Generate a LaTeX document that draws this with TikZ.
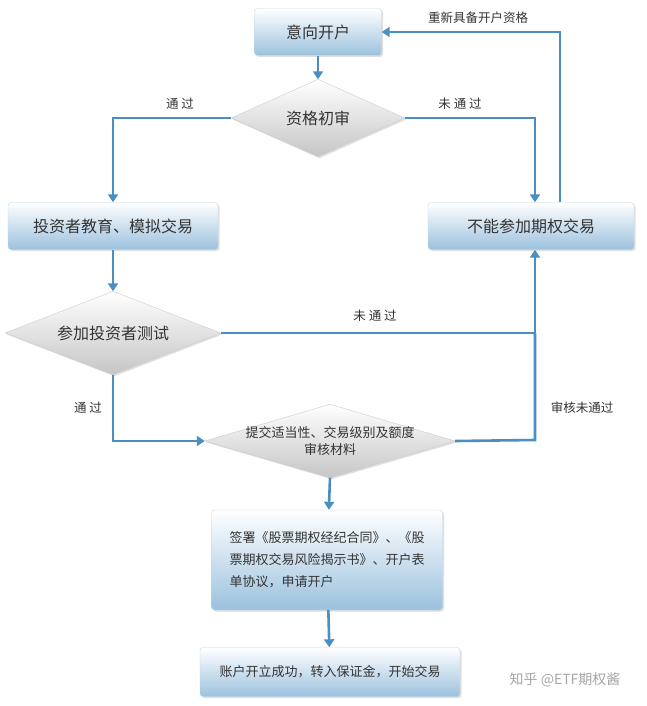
\documentclass[tikz,border=0pt]{standalone}
\usepackage{fontspec}
\setmainfont{Noto Sans CJK SC}
\usetikzlibrary{shadows,arrows.meta}
\definecolor{ln}{HTML}{4A8FC2}
\definecolor{tx}{HTML}{333333}
\tikzset{
 bx/.style={rectangle,rounded corners=3pt,draw=ln!35,top color=white,bottom color=ln!55,
   drop shadow={opacity=0.25,shadow xshift=1.5pt,shadow yshift=-1.5pt},text=tx,
   font=\fontsize{16}{20}\selectfont,align=center,inner sep=0pt},
 dm/.style={rectangle,text=tx,font=\fontsize{16}{20}\selectfont,align=center,inner sep=0pt},
 dmfill/.style={draw=gray!40,top color=white,bottom color=gray!45,
   drop shadow={opacity=0.25,shadow xshift=1.5pt,shadow yshift=-1.5pt}},
 ar/.style={draw=ln,line width=2.6pt,-{Triangle[length=8pt,width=10pt]}},
 pl/.style={draw=ln,line width=2.6pt},
 lb/.style={text=tx,font=\fontsize{12.5}{14}\selectfont}
}
\newcommand\dmshape[1]{\path[dmfill] (#1.west) -- (#1.north) -- (#1.east) -- (#1.south) -- cycle;}
\begin{document}
\begin{tikzpicture}[x=1pt,y=-1pt]
\useasboundingbox (0,0) rectangle (646,706);
\node[bx,minimum width=127,minimum height=47] (a) at (318,32) {意向开户};
\node[dm,minimum width=173,minimum height=77] (b) at (318,118) {};
\node[bx,minimum width=210,minimum height=47] (c) at (113,226) {投资者教育、模拟交易};
\node[bx,minimum width=206,minimum height=47] (d) at (531,226) {不能参加期权交易};
\node[dm,minimum width=215,minimum height=83] (e) at (113,333) {};
\node[dm,minimum width=250,minimum height=73] (f) at (330,441) {};
\dmshape{b}\dmshape{e}\dmshape{f}
\node[dm] (bt) at (b) {资格初审};
\node[dm] (et) at (e) {参加投资者测试};
\node[dm,font=\fontsize{13}{17}\selectfont] (ft) at (f) {提交适当性、交易级别及额度\\审核材料};
\node[bx,minimum width=231,minimum height=100,font=\fontsize{13}{22}\selectfont,align=left] (g) at (327,560) {签署《股票期权经纪合同》、《股\\票期权交易风险揭示书》、开户表\\单协议，申请开户};
\node[bx,minimum width=260,minimum height=49,font=\fontsize{13}{17}\selectfont] (h) at (330,672) {账户开立成功，转入保证金，开始交易};
\node[text=gray!70,font=\fontsize{14}{16}\selectfont] (w) at (565,680) {知乎 @ETF期权酱};
\coordinate (j1) at (535,333);
\coordinate (j2) at (535,440);
\draw[ar] (a) -- (b.north);
\draw[ar] (b.west) -| (c.north);
\draw[ar] (b.east) -| ([xshift=4pt]d.north);
\draw[ar] ([xshift=29pt]d.north) |- (a.east);
\draw[ar] (c) -- (e.north);
\draw[ar] (e.east) -- (j1) -- ([xshift=4pt]d.south);
\draw[pl] (f.east) -- (j2) -- (j1);
\draw[ar] (e.south) |- (f.west);
\draw[ar] (f.south) -- (g);
\draw[ar] (g) -- (h);
\node[lb] (l1) at (180,104) {通\ 过};
\node[lb] (l2) at (460,104) {未\ 通\ 过};
\node[lb] (l3) at (478,18) {重新具备开户资格};
\node[lb] (l4) at (375,316) {未\ 通\ 过};
\node[lb] (l5) at (88,408) {通\ 过};
\node[lb] (l6) at (582,408) {审核未通过};
\end{tikzpicture}
\end{document}
